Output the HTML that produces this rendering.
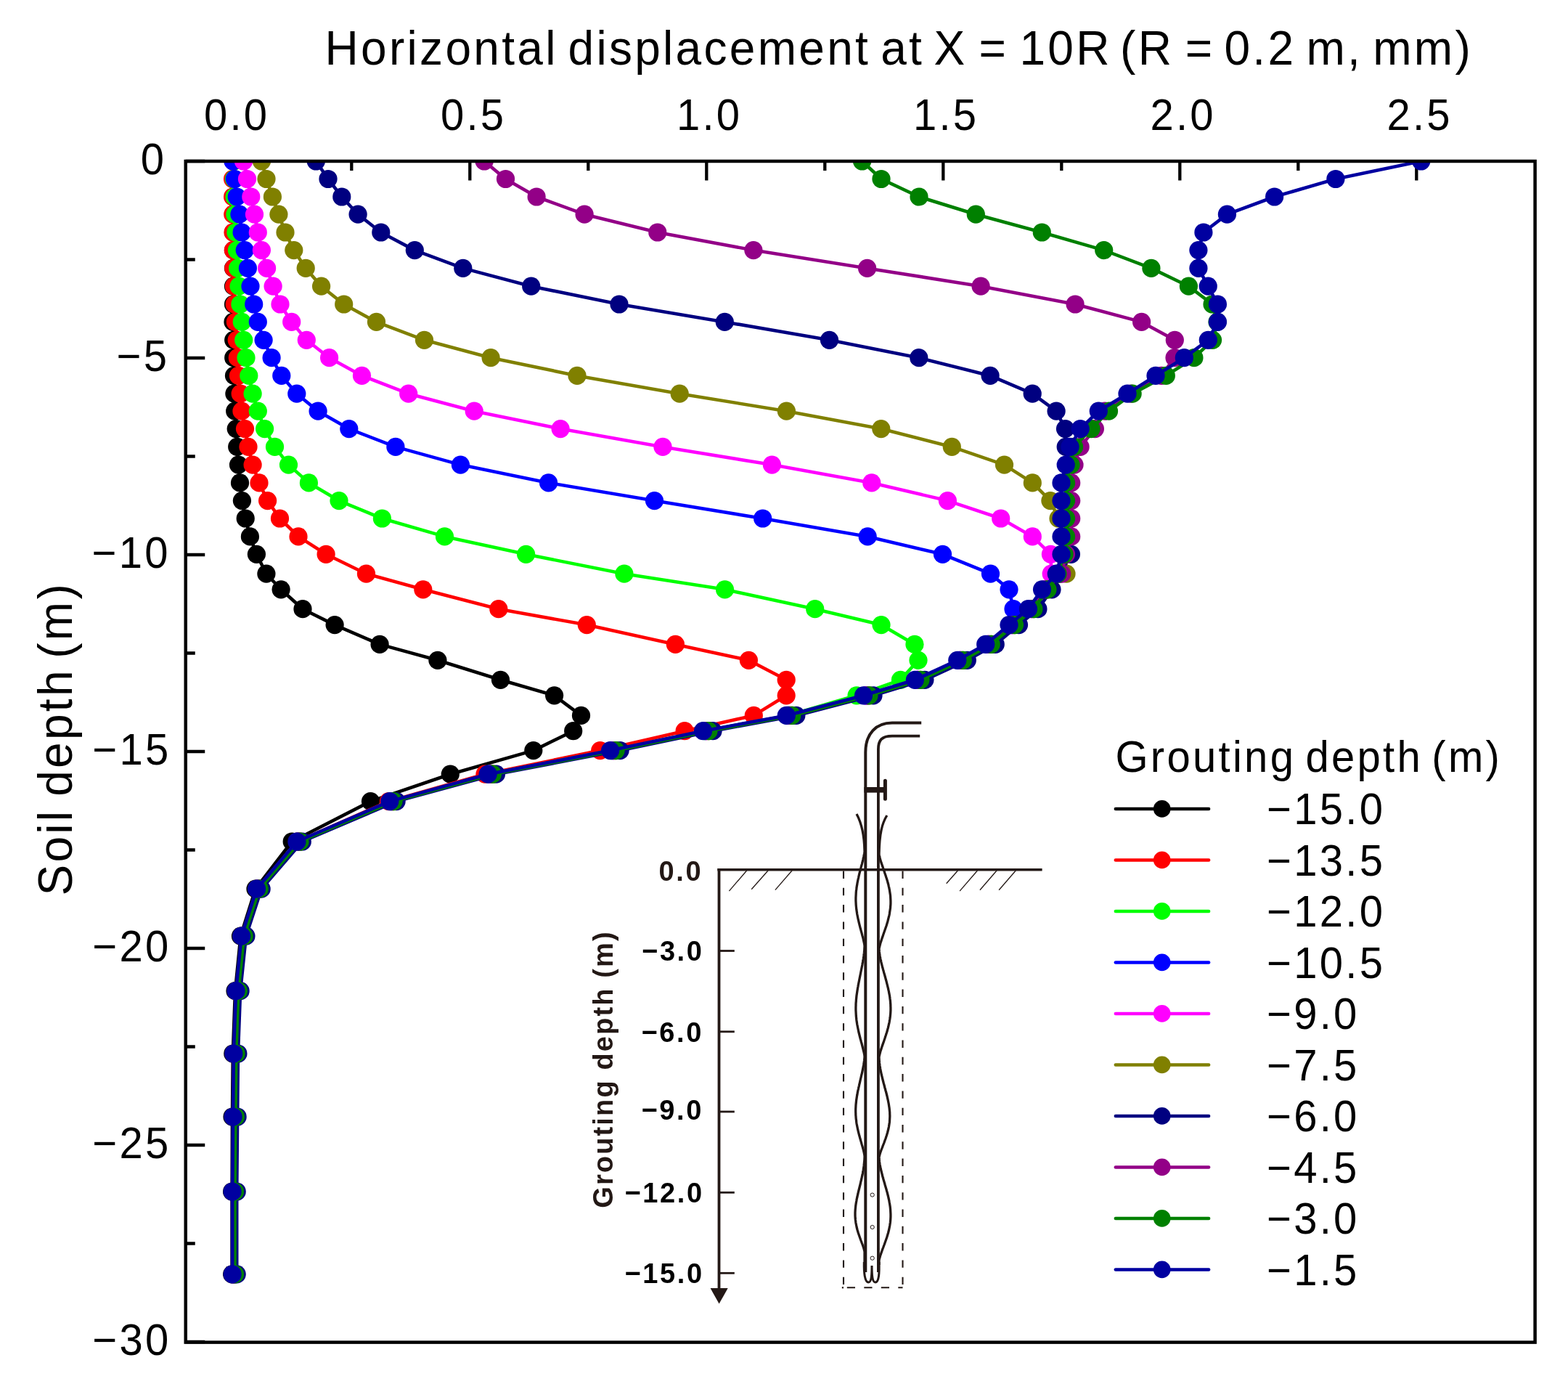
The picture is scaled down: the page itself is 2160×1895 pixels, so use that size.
<!DOCTYPE html><html><head><meta charset="utf-8"><title>Horizontal displacement at X = 10R</title>
<style>html,body{margin:0;padding:0;background:#fff;overflow:hidden;}svg{display:block;}text{font-family:'Liberation Sans', Arial, Helvetica, sans-serif;}</style></head><body>
<svg width="2160" height="1895" viewBox="0 0 2160 1895">
<rect x="0" y="0" width="2160" height="1895" fill="#fff"/>
<defs><clipPath id="pc"><rect x="255.75" y="222.0" width="1858.85" height="1626.60"/></clipPath></defs>
<text transform="translate(0,88.6) scale(1,1.04)" y="0" font-size="64" letter-spacing="3.3"><tspan x="447.6">Horizontal</tspan><tspan x="782.5">displacement</tspan><tspan x="1213.2">at</tspan><tspan x="1286.4">X</tspan><tspan x="1348.5">=</tspan><tspan x="1404.4">10R</tspan><tspan x="1543.1">(R</tspan><tspan x="1632.7">=</tspan><tspan x="1686.5">0.2</tspan><tspan x="1799.5">m,</tspan><tspan x="1891.2">mm)</tspan></text>
<text transform="translate(0,179.2) scale(1,1.04)" x="280.9" y="0" font-size="58" letter-spacing="3.3">0.0</text>
<text transform="translate(0,179.2) scale(1,1.04)" x="606.9" y="0" font-size="58" letter-spacing="3.3">0.5</text>
<text transform="translate(0,179.2) scale(1,1.04)" x="931.9" y="0" font-size="58" letter-spacing="3.3">1.0</text>
<text transform="translate(0,179.2) scale(1,1.04)" x="1257.9" y="0" font-size="58" letter-spacing="3.3">1.5</text>
<text transform="translate(0,179.2) scale(1,1.04)" x="1584.4" y="0" font-size="58" letter-spacing="3.3">2.0</text>
<text transform="translate(0,179.2) scale(1,1.04)" x="1910.4" y="0" font-size="58" letter-spacing="3.3">2.5</text>
<text transform="translate(0,240.3) scale(1,1.04)" x="193.7" y="0" font-size="58" letter-spacing="3.3">0</text>
<text transform="translate(0,511.3) scale(1,1.04)" x="160.6" y="0" font-size="58" letter-spacing="3.3">−5</text>
<text transform="translate(0,782.3) scale(1,1.04)" x="126.6" y="0" font-size="58" letter-spacing="3.3">−10</text>
<text transform="translate(0,1053.3) scale(1,1.04)" x="127.3" y="0" font-size="58" letter-spacing="3.3">−15</text>
<text transform="translate(0,1324.3) scale(1,1.04)" x="127.3" y="0" font-size="58" letter-spacing="3.3">−20</text>
<text transform="translate(0,1595.3) scale(1,1.04)" x="127.3" y="0" font-size="58" letter-spacing="3.3">−25</text>
<text transform="translate(0,1866.3) scale(1,1.04)" x="127.3" y="0" font-size="58" letter-spacing="3.3">−30</text>
<text transform="translate(98.8,1230.6) rotate(-90) scale(1,1.04)" y="0" font-size="64" letter-spacing="3.3"><tspan x="-3.0">Soil</tspan><tspan x="133.8">depth</tspan><tspan x="323.8">(m)</tspan></text>
<path d="M321.3,222.0v26.5M484.3,222.0v13M647.3,222.0v26.5M810.3,222.0v13M973.3,222.0v26.5M1136.3,222.0v13M1299.3,222.0v26.5M1462.3,222.0v13M1625.3,222.0v26.5M1788.3,222.0v13M1951.3,222.0v26.5M255.75,222.0h26.5M255.75,357.5h13M255.75,493.0h26.5M255.75,628.5h13M255.75,764.0h26.5M255.75,899.5h13M255.75,1035.0h26.5M255.75,1170.5h13M255.75,1306.0h26.5M255.75,1441.5h13M255.75,1577.0h26.5M255.75,1712.5h13M255.75,1848.0h26.5" stroke="#000" stroke-width="4.3" fill="none"/>
<g clip-path="url(#pc)">
<polyline points="321.5,222.0 321.5,246.5 321.5,271.0 321.5,295.2 321.5,320.0 321.5,344.6 321.5,369.4 321.5,394.2 321.5,419.0 321.0,443.4 321.7,468.3 321.7,492.7 322.5,517.4 322.9,542.2 323.7,566.2 325.2,590.6 326.7,615.4 328.5,640.1 330.5,664.9 333.4,689.6 338.2,714.0 344.4,738.9 353.4,763.3 366.9,790.2 387.1,811.8 417.0,838.7 461.1,860.6 523.1,887.4 602.9,909.3 689.5,936.3 763.6,957.8 800.5,985.4 789.7,1006.7 734.8,1033.6 620.3,1066.2 510.5,1103.6 402.2,1159.0 352.0,1224.2 331.5,1289.2 324.0,1364.7 320.8,1451.0 320.0,1538.0 319.6,1641.0 319.6,1754.8" fill="none" stroke="#000000" stroke-width="4.6" stroke-linejoin="round" stroke-linecap="round"/>
<g fill="#000000"><circle cx="321.5" cy="222.0" r="12.6"/><circle cx="321.5" cy="246.5" r="12.6"/><circle cx="321.5" cy="271.0" r="12.6"/><circle cx="321.5" cy="295.2" r="12.6"/><circle cx="321.5" cy="320.0" r="12.6"/><circle cx="321.5" cy="344.6" r="12.6"/><circle cx="321.5" cy="369.4" r="12.6"/><circle cx="321.5" cy="394.2" r="12.6"/><circle cx="321.5" cy="419.0" r="12.6"/><circle cx="321.0" cy="443.4" r="12.6"/><circle cx="321.7" cy="468.3" r="12.6"/><circle cx="321.7" cy="492.7" r="12.6"/><circle cx="322.5" cy="517.4" r="12.6"/><circle cx="322.9" cy="542.2" r="12.6"/><circle cx="323.7" cy="566.2" r="12.6"/><circle cx="325.2" cy="590.6" r="12.6"/><circle cx="326.7" cy="615.4" r="12.6"/><circle cx="328.5" cy="640.1" r="12.6"/><circle cx="330.5" cy="664.9" r="12.6"/><circle cx="333.4" cy="689.6" r="12.6"/><circle cx="338.2" cy="714.0" r="12.6"/><circle cx="344.4" cy="738.9" r="12.6"/><circle cx="353.4" cy="763.3" r="12.6"/><circle cx="366.9" cy="790.2" r="12.6"/><circle cx="387.1" cy="811.8" r="12.6"/><circle cx="417.0" cy="838.7" r="12.6"/><circle cx="461.1" cy="860.6" r="12.6"/><circle cx="523.1" cy="887.4" r="12.6"/><circle cx="602.9" cy="909.3" r="12.6"/><circle cx="689.5" cy="936.3" r="12.6"/><circle cx="763.6" cy="957.8" r="12.6"/><circle cx="800.5" cy="985.4" r="12.6"/><circle cx="789.7" cy="1006.7" r="12.6"/><circle cx="734.8" cy="1033.6" r="12.6"/><circle cx="620.3" cy="1066.2" r="12.6"/><circle cx="510.5" cy="1103.6" r="12.6"/><circle cx="402.2" cy="1159.0" r="12.6"/><circle cx="352.0" cy="1224.2" r="12.6"/><circle cx="331.5" cy="1289.2" r="12.6"/><circle cx="324.0" cy="1364.7" r="12.6"/><circle cx="320.8" cy="1451.0" r="12.6"/><circle cx="320.0" cy="1538.0" r="12.6"/><circle cx="319.6" cy="1641.0" r="12.6"/><circle cx="319.6" cy="1754.8" r="12.6"/></g>
<polyline points="321.5,222.0 320.6,246.5 320.6,271.0 320.8,295.2 321.0,320.0 321.3,344.6 321.8,369.4 322.5,394.2 323.2,419.0 324.4,443.4 326.2,468.3 327.3,492.7 328.5,517.4 331.2,542.2 333.0,566.2 337.5,590.6 342.0,615.4 348.1,640.1 357.0,664.9 368.6,689.6 385.5,714.0 411.0,738.9 449.1,763.3 504.5,790.2 582.8,811.8 686.8,838.7 808.3,860.6 930.4,887.4 1031.4,909.3 1083.2,936.3 1083.2,957.8 1038.3,985.4 943.1,1006.7 826.7,1033.6 668.0,1066.2 535.5,1103.6 409.4,1159.0 354.0,1224.2 333.1,1289.2 325.5,1364.7 322.3,1451.0 321.5,1538.0 320.6,1641.0 320.6,1754.8" fill="none" stroke="#FF0000" stroke-width="4.6" stroke-linejoin="round" stroke-linecap="round"/>
<g fill="#FF0000"><circle cx="321.5" cy="222.0" r="12.6"/><circle cx="320.6" cy="246.5" r="12.6"/><circle cx="320.6" cy="271.0" r="12.6"/><circle cx="320.8" cy="295.2" r="12.6"/><circle cx="321.0" cy="320.0" r="12.6"/><circle cx="321.3" cy="344.6" r="12.6"/><circle cx="321.8" cy="369.4" r="12.6"/><circle cx="322.5" cy="394.2" r="12.6"/><circle cx="323.2" cy="419.0" r="12.6"/><circle cx="324.4" cy="443.4" r="12.6"/><circle cx="326.2" cy="468.3" r="12.6"/><circle cx="327.3" cy="492.7" r="12.6"/><circle cx="328.5" cy="517.4" r="12.6"/><circle cx="331.2" cy="542.2" r="12.6"/><circle cx="333.0" cy="566.2" r="12.6"/><circle cx="337.5" cy="590.6" r="12.6"/><circle cx="342.0" cy="615.4" r="12.6"/><circle cx="348.1" cy="640.1" r="12.6"/><circle cx="357.0" cy="664.9" r="12.6"/><circle cx="368.6" cy="689.6" r="12.6"/><circle cx="385.5" cy="714.0" r="12.6"/><circle cx="411.0" cy="738.9" r="12.6"/><circle cx="449.1" cy="763.3" r="12.6"/><circle cx="504.5" cy="790.2" r="12.6"/><circle cx="582.8" cy="811.8" r="12.6"/><circle cx="686.8" cy="838.7" r="12.6"/><circle cx="808.3" cy="860.6" r="12.6"/><circle cx="930.4" cy="887.4" r="12.6"/><circle cx="1031.4" cy="909.3" r="12.6"/><circle cx="1083.2" cy="936.3" r="12.6"/><circle cx="1083.2" cy="957.8" r="12.6"/><circle cx="1038.3" cy="985.4" r="12.6"/><circle cx="943.1" cy="1006.7" r="12.6"/><circle cx="826.7" cy="1033.6" r="12.6"/><circle cx="668.0" cy="1066.2" r="12.6"/><circle cx="535.5" cy="1103.6" r="12.6"/><circle cx="409.4" cy="1159.0" r="12.6"/><circle cx="354.0" cy="1224.2" r="12.6"/><circle cx="333.1" cy="1289.2" r="12.6"/><circle cx="325.5" cy="1364.7" r="12.6"/><circle cx="322.3" cy="1451.0" r="12.6"/><circle cx="321.5" cy="1538.0" r="12.6"/><circle cx="320.6" cy="1641.0" r="12.6"/><circle cx="320.6" cy="1754.8" r="12.6"/></g>
<polyline points="322.0,222.0 322.4,246.5 323.1,271.0 323.9,295.2 324.9,320.0 326.4,344.6 327.6,369.4 329.1,394.2 330.9,419.0 333.3,443.4 335.7,468.3 339.0,492.7 342.8,517.4 348.1,542.2 355.3,566.2 364.6,590.6 378.5,615.4 397.5,640.1 425.4,664.9 467.0,689.6 526.4,714.0 612.5,738.9 724.6,763.3 859.9,790.2 998.5,811.8 1122.7,838.7 1214.0,860.6 1260.0,887.4 1265.0,909.3 1240.5,936.3 1180.0,957.8 1085.3,985.4 970.5,1006.7 842.6,1033.6 673.8,1066.2 538.2,1103.6 410.0,1159.0 354.5,1224.2 333.5,1289.2 325.9,1364.7 322.7,1451.0 321.9,1538.0 321.0,1641.0 321.0,1754.8" fill="none" stroke="#00FF00" stroke-width="4.6" stroke-linejoin="round" stroke-linecap="round"/>
<g fill="#00FF00"><circle cx="322.0" cy="222.0" r="12.6"/><circle cx="322.4" cy="246.5" r="12.6"/><circle cx="323.1" cy="271.0" r="12.6"/><circle cx="323.9" cy="295.2" r="12.6"/><circle cx="324.9" cy="320.0" r="12.6"/><circle cx="326.4" cy="344.6" r="12.6"/><circle cx="327.6" cy="369.4" r="12.6"/><circle cx="329.1" cy="394.2" r="12.6"/><circle cx="330.9" cy="419.0" r="12.6"/><circle cx="333.3" cy="443.4" r="12.6"/><circle cx="335.7" cy="468.3" r="12.6"/><circle cx="339.0" cy="492.7" r="12.6"/><circle cx="342.8" cy="517.4" r="12.6"/><circle cx="348.1" cy="542.2" r="12.6"/><circle cx="355.3" cy="566.2" r="12.6"/><circle cx="364.6" cy="590.6" r="12.6"/><circle cx="378.5" cy="615.4" r="12.6"/><circle cx="397.5" cy="640.1" r="12.6"/><circle cx="425.4" cy="664.9" r="12.6"/><circle cx="467.0" cy="689.6" r="12.6"/><circle cx="526.4" cy="714.0" r="12.6"/><circle cx="612.5" cy="738.9" r="12.6"/><circle cx="724.6" cy="763.3" r="12.6"/><circle cx="859.9" cy="790.2" r="12.6"/><circle cx="998.5" cy="811.8" r="12.6"/><circle cx="1122.7" cy="838.7" r="12.6"/><circle cx="1214.0" cy="860.6" r="12.6"/><circle cx="1260.0" cy="887.4" r="12.6"/><circle cx="1265.0" cy="909.3" r="12.6"/><circle cx="1240.5" cy="936.3" r="12.6"/><circle cx="1180.0" cy="957.8" r="12.6"/><circle cx="1085.3" cy="985.4" r="12.6"/><circle cx="970.5" cy="1006.7" r="12.6"/><circle cx="842.6" cy="1033.6" r="12.6"/><circle cx="673.8" cy="1066.2" r="12.6"/><circle cx="538.2" cy="1103.6" r="12.6"/><circle cx="410.0" cy="1159.0" r="12.6"/><circle cx="354.5" cy="1224.2" r="12.6"/><circle cx="333.5" cy="1289.2" r="12.6"/><circle cx="325.9" cy="1364.7" r="12.6"/><circle cx="322.7" cy="1451.0" r="12.6"/><circle cx="321.9" cy="1538.0" r="12.6"/><circle cx="321.0" cy="1641.0" r="12.6"/><circle cx="321.0" cy="1754.8" r="12.6"/></g>
<polyline points="321.0,222.0 323.3,246.5 326.2,271.0 329.9,295.2 333.1,320.0 337.2,344.6 341.4,369.4 345.0,394.2 349.7,419.0 355.3,443.4 363.1,468.3 374.1,492.7 387.8,517.4 408.8,542.2 438.1,566.2 480.8,590.6 544.9,615.4 634.4,640.1 755.6,664.9 901.5,689.6 1050.7,714.0 1195.2,738.9 1298.5,763.3 1364.5,790.2 1390.0,811.8 1396.0,838.7 1393.0,860.6 1360.7,887.4 1321.8,909.3 1263.4,936.3 1192.5,957.8 1086.3,985.4 971.5,1006.7 843.6,1033.6 674.6,1066.2 538.9,1103.6 410.5,1159.0 355.0,1224.2 334.0,1289.2 326.4,1364.7 323.2,1451.0 322.4,1538.0 321.5,1641.0 321.5,1754.8" fill="none" stroke="#0000FF" stroke-width="4.6" stroke-linejoin="round" stroke-linecap="round"/>
<g fill="#0000FF"><circle cx="321.0" cy="222.0" r="12.6"/><circle cx="323.3" cy="246.5" r="12.6"/><circle cx="326.2" cy="271.0" r="12.6"/><circle cx="329.9" cy="295.2" r="12.6"/><circle cx="333.1" cy="320.0" r="12.6"/><circle cx="337.2" cy="344.6" r="12.6"/><circle cx="341.4" cy="369.4" r="12.6"/><circle cx="345.0" cy="394.2" r="12.6"/><circle cx="349.7" cy="419.0" r="12.6"/><circle cx="355.3" cy="443.4" r="12.6"/><circle cx="363.1" cy="468.3" r="12.6"/><circle cx="374.1" cy="492.7" r="12.6"/><circle cx="387.8" cy="517.4" r="12.6"/><circle cx="408.8" cy="542.2" r="12.6"/><circle cx="438.1" cy="566.2" r="12.6"/><circle cx="480.8" cy="590.6" r="12.6"/><circle cx="544.9" cy="615.4" r="12.6"/><circle cx="634.4" cy="640.1" r="12.6"/><circle cx="755.6" cy="664.9" r="12.6"/><circle cx="901.5" cy="689.6" r="12.6"/><circle cx="1050.7" cy="714.0" r="12.6"/><circle cx="1195.2" cy="738.9" r="12.6"/><circle cx="1298.5" cy="763.3" r="12.6"/><circle cx="1364.5" cy="790.2" r="12.6"/><circle cx="1390.0" cy="811.8" r="12.6"/><circle cx="1396.0" cy="838.7" r="12.6"/><circle cx="1393.0" cy="860.6" r="12.6"/><circle cx="1360.7" cy="887.4" r="12.6"/><circle cx="1321.8" cy="909.3" r="12.6"/><circle cx="1263.4" cy="936.3" r="12.6"/><circle cx="1192.5" cy="957.8" r="12.6"/><circle cx="1086.3" cy="985.4" r="12.6"/><circle cx="971.5" cy="1006.7" r="12.6"/><circle cx="843.6" cy="1033.6" r="12.6"/><circle cx="674.6" cy="1066.2" r="12.6"/><circle cx="538.9" cy="1103.6" r="12.6"/><circle cx="410.5" cy="1159.0" r="12.6"/><circle cx="355.0" cy="1224.2" r="12.6"/><circle cx="334.0" cy="1289.2" r="12.6"/><circle cx="326.4" cy="1364.7" r="12.6"/><circle cx="323.2" cy="1451.0" r="12.6"/><circle cx="322.4" cy="1538.0" r="12.6"/><circle cx="321.5" cy="1641.0" r="12.6"/><circle cx="321.5" cy="1754.8" r="12.6"/></g>
<polyline points="335.5,222.0 340.5,246.5 345.8,271.0 350.5,295.2 355.3,320.0 360.4,344.6 367.6,369.4 376.1,394.2 386.0,419.0 401.7,443.4 422.3,468.3 453.6,492.7 498.5,517.4 562.7,542.2 653.2,566.2 772.1,590.6 913.0,615.4 1063.4,640.1 1200.8,664.9 1305.4,689.6 1378.7,714.0 1422.3,738.9 1447.4,763.3 1448.2,790.2 1438.0,811.8 1420.4,838.7 1394.0,860.6 1361.7,887.4 1322.8,909.3 1264.4,936.3 1193.5,957.8 1087.3,985.4 972.5,1006.7 844.6,1033.6 675.4,1066.2 539.6,1103.6 411.1,1159.0 355.4,1224.2 334.5,1289.2 326.8,1364.7 323.6,1451.0 322.8,1538.0 321.9,1641.0 321.9,1754.8" fill="none" stroke="#FF00FF" stroke-width="4.6" stroke-linejoin="round" stroke-linecap="round"/>
<g fill="#FF00FF"><circle cx="335.5" cy="222.0" r="12.6"/><circle cx="340.5" cy="246.5" r="12.6"/><circle cx="345.8" cy="271.0" r="12.6"/><circle cx="350.5" cy="295.2" r="12.6"/><circle cx="355.3" cy="320.0" r="12.6"/><circle cx="360.4" cy="344.6" r="12.6"/><circle cx="367.6" cy="369.4" r="12.6"/><circle cx="376.1" cy="394.2" r="12.6"/><circle cx="386.0" cy="419.0" r="12.6"/><circle cx="401.7" cy="443.4" r="12.6"/><circle cx="422.3" cy="468.3" r="12.6"/><circle cx="453.6" cy="492.7" r="12.6"/><circle cx="498.5" cy="517.4" r="12.6"/><circle cx="562.7" cy="542.2" r="12.6"/><circle cx="653.2" cy="566.2" r="12.6"/><circle cx="772.1" cy="590.6" r="12.6"/><circle cx="913.0" cy="615.4" r="12.6"/><circle cx="1063.4" cy="640.1" r="12.6"/><circle cx="1200.8" cy="664.9" r="12.6"/><circle cx="1305.4" cy="689.6" r="12.6"/><circle cx="1378.7" cy="714.0" r="12.6"/><circle cx="1422.3" cy="738.9" r="12.6"/><circle cx="1447.4" cy="763.3" r="12.6"/><circle cx="1448.2" cy="790.2" r="12.6"/><circle cx="1438.0" cy="811.8" r="12.6"/><circle cx="1420.4" cy="838.7" r="12.6"/><circle cx="1394.0" cy="860.6" r="12.6"/><circle cx="1361.7" cy="887.4" r="12.6"/><circle cx="1322.8" cy="909.3" r="12.6"/><circle cx="1264.4" cy="936.3" r="12.6"/><circle cx="1193.5" cy="957.8" r="12.6"/><circle cx="1087.3" cy="985.4" r="12.6"/><circle cx="972.5" cy="1006.7" r="12.6"/><circle cx="844.6" cy="1033.6" r="12.6"/><circle cx="675.4" cy="1066.2" r="12.6"/><circle cx="539.6" cy="1103.6" r="12.6"/><circle cx="411.1" cy="1159.0" r="12.6"/><circle cx="355.4" cy="1224.2" r="12.6"/><circle cx="334.5" cy="1289.2" r="12.6"/><circle cx="326.8" cy="1364.7" r="12.6"/><circle cx="323.6" cy="1451.0" r="12.6"/><circle cx="322.8" cy="1538.0" r="12.6"/><circle cx="321.9" cy="1641.0" r="12.6"/><circle cx="321.9" cy="1754.8" r="12.6"/></g>
<polyline points="360.4,222.0 367.0,246.5 375.4,271.0 383.9,295.2 393.0,320.0 404.8,344.6 421.2,369.4 442.6,394.2 473.7,419.0 518.5,443.4 584.5,468.3 676.1,492.7 795.0,517.4 936.2,542.2 1083.4,566.2 1213.8,590.6 1311.3,615.4 1383.5,640.1 1422.3,664.9 1446.9,689.6 1458.0,714.0 1464.0,738.9 1468.0,763.3 1469.0,790.2 1443.5,811.8 1424.4,838.7 1398.0,860.6 1365.7,887.4 1326.8,909.3 1268.4,936.3 1197.5,957.8 1091.3,985.4 976.5,1006.7 848.6,1033.6 678.8,1066.2 542.3,1103.6 413.3,1159.0 357.4,1224.2 336.3,1289.2 328.6,1364.7 325.4,1451.0 324.6,1538.0 323.7,1641.0 323.7,1754.8" fill="none" stroke="#808000" stroke-width="4.6" stroke-linejoin="round" stroke-linecap="round"/>
<g fill="#808000"><circle cx="360.4" cy="222.0" r="12.6"/><circle cx="367.0" cy="246.5" r="12.6"/><circle cx="375.4" cy="271.0" r="12.6"/><circle cx="383.9" cy="295.2" r="12.6"/><circle cx="393.0" cy="320.0" r="12.6"/><circle cx="404.8" cy="344.6" r="12.6"/><circle cx="421.2" cy="369.4" r="12.6"/><circle cx="442.6" cy="394.2" r="12.6"/><circle cx="473.7" cy="419.0" r="12.6"/><circle cx="518.5" cy="443.4" r="12.6"/><circle cx="584.5" cy="468.3" r="12.6"/><circle cx="676.1" cy="492.7" r="12.6"/><circle cx="795.0" cy="517.4" r="12.6"/><circle cx="936.2" cy="542.2" r="12.6"/><circle cx="1083.4" cy="566.2" r="12.6"/><circle cx="1213.8" cy="590.6" r="12.6"/><circle cx="1311.3" cy="615.4" r="12.6"/><circle cx="1383.5" cy="640.1" r="12.6"/><circle cx="1422.3" cy="664.9" r="12.6"/><circle cx="1446.9" cy="689.6" r="12.6"/><circle cx="1458.0" cy="714.0" r="12.6"/><circle cx="1464.0" cy="738.9" r="12.6"/><circle cx="1468.0" cy="763.3" r="12.6"/><circle cx="1469.0" cy="790.2" r="12.6"/><circle cx="1443.5" cy="811.8" r="12.6"/><circle cx="1424.4" cy="838.7" r="12.6"/><circle cx="1398.0" cy="860.6" r="12.6"/><circle cx="1365.7" cy="887.4" r="12.6"/><circle cx="1326.8" cy="909.3" r="12.6"/><circle cx="1268.4" cy="936.3" r="12.6"/><circle cx="1197.5" cy="957.8" r="12.6"/><circle cx="1091.3" cy="985.4" r="12.6"/><circle cx="976.5" cy="1006.7" r="12.6"/><circle cx="848.6" cy="1033.6" r="12.6"/><circle cx="678.8" cy="1066.2" r="12.6"/><circle cx="542.3" cy="1103.6" r="12.6"/><circle cx="413.3" cy="1159.0" r="12.6"/><circle cx="357.4" cy="1224.2" r="12.6"/><circle cx="336.3" cy="1289.2" r="12.6"/><circle cx="328.6" cy="1364.7" r="12.6"/><circle cx="325.4" cy="1451.0" r="12.6"/><circle cx="324.6" cy="1538.0" r="12.6"/><circle cx="323.7" cy="1641.0" r="12.6"/><circle cx="323.7" cy="1754.8" r="12.6"/></g>
<polyline points="435.3,222.0 452.0,246.5 470.8,271.0 493.1,295.2 524.8,320.0 571.3,344.6 637.8,369.4 731.7,394.2 853.0,419.0 998.3,443.4 1142.5,468.3 1265.8,492.7 1364.1,517.4 1422.2,542.2 1455.1,566.2 1467.5,590.6 1468.2,615.4 1470.0,640.1 1470.0,664.9 1470.0,689.6 1470.0,714.0 1470.0,738.9 1475.4,763.3 1460.0,790.2 1449.0,811.8 1429.9,838.7 1403.5,860.6 1371.2,887.4 1332.3,909.3 1273.9,936.3 1203.0,957.8 1096.8,985.4 982.0,1006.7 854.1,1033.6 683.4,1066.2 546.1,1103.6 416.3,1159.0 360.1,1224.2 338.9,1289.2 331.1,1364.7 327.9,1451.0 327.1,1538.0 326.2,1641.0 326.2,1754.8" fill="none" stroke="#000080" stroke-width="4.6" stroke-linejoin="round" stroke-linecap="round"/>
<g fill="#000080"><circle cx="435.3" cy="222.0" r="12.6"/><circle cx="452.0" cy="246.5" r="12.6"/><circle cx="470.8" cy="271.0" r="12.6"/><circle cx="493.1" cy="295.2" r="12.6"/><circle cx="524.8" cy="320.0" r="12.6"/><circle cx="571.3" cy="344.6" r="12.6"/><circle cx="637.8" cy="369.4" r="12.6"/><circle cx="731.7" cy="394.2" r="12.6"/><circle cx="853.0" cy="419.0" r="12.6"/><circle cx="998.3" cy="443.4" r="12.6"/><circle cx="1142.5" cy="468.3" r="12.6"/><circle cx="1265.8" cy="492.7" r="12.6"/><circle cx="1364.1" cy="517.4" r="12.6"/><circle cx="1422.2" cy="542.2" r="12.6"/><circle cx="1455.1" cy="566.2" r="12.6"/><circle cx="1467.5" cy="590.6" r="12.6"/><circle cx="1468.2" cy="615.4" r="12.6"/><circle cx="1470.0" cy="640.1" r="12.6"/><circle cx="1470.0" cy="664.9" r="12.6"/><circle cx="1470.0" cy="689.6" r="12.6"/><circle cx="1470.0" cy="714.0" r="12.6"/><circle cx="1470.0" cy="738.9" r="12.6"/><circle cx="1475.4" cy="763.3" r="12.6"/><circle cx="1460.0" cy="790.2" r="12.6"/><circle cx="1449.0" cy="811.8" r="12.6"/><circle cx="1429.9" cy="838.7" r="12.6"/><circle cx="1403.5" cy="860.6" r="12.6"/><circle cx="1371.2" cy="887.4" r="12.6"/><circle cx="1332.3" cy="909.3" r="12.6"/><circle cx="1273.9" cy="936.3" r="12.6"/><circle cx="1203.0" cy="957.8" r="12.6"/><circle cx="1096.8" cy="985.4" r="12.6"/><circle cx="982.0" cy="1006.7" r="12.6"/><circle cx="854.1" cy="1033.6" r="12.6"/><circle cx="683.4" cy="1066.2" r="12.6"/><circle cx="546.1" cy="1103.6" r="12.6"/><circle cx="416.3" cy="1159.0" r="12.6"/><circle cx="360.1" cy="1224.2" r="12.6"/><circle cx="338.9" cy="1289.2" r="12.6"/><circle cx="331.1" cy="1364.7" r="12.6"/><circle cx="327.9" cy="1451.0" r="12.6"/><circle cx="327.1" cy="1538.0" r="12.6"/><circle cx="326.2" cy="1641.0" r="12.6"/><circle cx="326.2" cy="1754.8" r="12.6"/></g>
<polyline points="667.1,222.0 696.5,246.5 739.1,271.0 805.1,295.2 905.8,320.0 1037.9,344.6 1194.6,369.4 1351.1,394.2 1481.1,419.0 1572.6,443.4 1618.3,468.3 1618.0,492.7 1600.0,517.4 1558.0,542.2 1522.0,566.2 1508.4,590.6 1488.1,615.4 1480.0,640.1 1475.7,664.9 1475.7,689.6 1475.7,714.0 1475.7,738.9 1468.5,763.3 1462.7,790.2 1440.5,811.8 1421.4,838.7 1395.0,860.6 1362.7,887.4 1323.8,909.3 1265.4,936.3 1194.5,957.8 1088.3,985.4 973.5,1006.7 845.6,1033.6 676.3,1066.2 540.2,1103.6 411.6,1159.0 355.9,1224.2 334.9,1289.2 327.3,1364.7 324.1,1451.0 323.3,1538.0 322.4,1641.0 322.4,1754.8" fill="none" stroke="#930087" stroke-width="4.6" stroke-linejoin="round" stroke-linecap="round"/>
<g fill="#930087"><circle cx="667.1" cy="222.0" r="12.6"/><circle cx="696.5" cy="246.5" r="12.6"/><circle cx="739.1" cy="271.0" r="12.6"/><circle cx="805.1" cy="295.2" r="12.6"/><circle cx="905.8" cy="320.0" r="12.6"/><circle cx="1037.9" cy="344.6" r="12.6"/><circle cx="1194.6" cy="369.4" r="12.6"/><circle cx="1351.1" cy="394.2" r="12.6"/><circle cx="1481.1" cy="419.0" r="12.6"/><circle cx="1572.6" cy="443.4" r="12.6"/><circle cx="1618.3" cy="468.3" r="12.6"/><circle cx="1618.0" cy="492.7" r="12.6"/><circle cx="1600.0" cy="517.4" r="12.6"/><circle cx="1558.0" cy="542.2" r="12.6"/><circle cx="1522.0" cy="566.2" r="12.6"/><circle cx="1508.4" cy="590.6" r="12.6"/><circle cx="1488.1" cy="615.4" r="12.6"/><circle cx="1480.0" cy="640.1" r="12.6"/><circle cx="1475.7" cy="664.9" r="12.6"/><circle cx="1475.7" cy="689.6" r="12.6"/><circle cx="1475.7" cy="714.0" r="12.6"/><circle cx="1475.7" cy="738.9" r="12.6"/><circle cx="1468.5" cy="763.3" r="12.6"/><circle cx="1462.7" cy="790.2" r="12.6"/><circle cx="1440.5" cy="811.8" r="12.6"/><circle cx="1421.4" cy="838.7" r="12.6"/><circle cx="1395.0" cy="860.6" r="12.6"/><circle cx="1362.7" cy="887.4" r="12.6"/><circle cx="1323.8" cy="909.3" r="12.6"/><circle cx="1265.4" cy="936.3" r="12.6"/><circle cx="1194.5" cy="957.8" r="12.6"/><circle cx="1088.3" cy="985.4" r="12.6"/><circle cx="973.5" cy="1006.7" r="12.6"/><circle cx="845.6" cy="1033.6" r="12.6"/><circle cx="676.3" cy="1066.2" r="12.6"/><circle cx="540.2" cy="1103.6" r="12.6"/><circle cx="411.6" cy="1159.0" r="12.6"/><circle cx="355.9" cy="1224.2" r="12.6"/><circle cx="334.9" cy="1289.2" r="12.6"/><circle cx="327.3" cy="1364.7" r="12.6"/><circle cx="324.1" cy="1451.0" r="12.6"/><circle cx="323.3" cy="1538.0" r="12.6"/><circle cx="322.4" cy="1641.0" r="12.6"/><circle cx="322.4" cy="1754.8" r="12.6"/></g>
<polyline points="1187.6,222.0 1214.0,246.5 1266.0,271.0 1344.3,295.2 1435.3,320.0 1520.7,344.6 1585.9,369.4 1637.4,394.2 1670.0,419.0 1677.0,443.4 1670.5,468.3 1644.9,492.7 1606.3,517.4 1560.1,542.2 1527.5,566.2 1503.0,590.6 1479.5,615.4 1475.0,640.1 1468.5,664.9 1468.5,689.6 1468.5,714.0 1468.5,738.9 1466.0,763.3 1457.0,790.2 1443.0,811.8 1423.9,838.7 1397.5,860.6 1365.2,887.4 1326.3,909.3 1267.9,936.3 1197.0,957.8 1090.8,985.4 976.0,1006.7 848.1,1033.6 678.4,1066.2 542.0,1103.6 413.0,1159.0 357.2,1224.2 336.1,1289.2 328.4,1364.7 325.2,1451.0 324.4,1538.0 323.5,1641.0 323.5,1754.8" fill="none" stroke="#008000" stroke-width="4.6" stroke-linejoin="round" stroke-linecap="round"/>
<g fill="#008000"><circle cx="1187.6" cy="222.0" r="12.6"/><circle cx="1214.0" cy="246.5" r="12.6"/><circle cx="1266.0" cy="271.0" r="12.6"/><circle cx="1344.3" cy="295.2" r="12.6"/><circle cx="1435.3" cy="320.0" r="12.6"/><circle cx="1520.7" cy="344.6" r="12.6"/><circle cx="1585.9" cy="369.4" r="12.6"/><circle cx="1637.4" cy="394.2" r="12.6"/><circle cx="1670.0" cy="419.0" r="12.6"/><circle cx="1677.0" cy="443.4" r="12.6"/><circle cx="1670.5" cy="468.3" r="12.6"/><circle cx="1644.9" cy="492.7" r="12.6"/><circle cx="1606.3" cy="517.4" r="12.6"/><circle cx="1560.1" cy="542.2" r="12.6"/><circle cx="1527.5" cy="566.2" r="12.6"/><circle cx="1503.0" cy="590.6" r="12.6"/><circle cx="1479.5" cy="615.4" r="12.6"/><circle cx="1475.0" cy="640.1" r="12.6"/><circle cx="1468.5" cy="664.9" r="12.6"/><circle cx="1468.5" cy="689.6" r="12.6"/><circle cx="1468.5" cy="714.0" r="12.6"/><circle cx="1468.5" cy="738.9" r="12.6"/><circle cx="1466.0" cy="763.3" r="12.6"/><circle cx="1457.0" cy="790.2" r="12.6"/><circle cx="1443.0" cy="811.8" r="12.6"/><circle cx="1423.9" cy="838.7" r="12.6"/><circle cx="1397.5" cy="860.6" r="12.6"/><circle cx="1365.2" cy="887.4" r="12.6"/><circle cx="1326.3" cy="909.3" r="12.6"/><circle cx="1267.9" cy="936.3" r="12.6"/><circle cx="1197.0" cy="957.8" r="12.6"/><circle cx="1090.8" cy="985.4" r="12.6"/><circle cx="976.0" cy="1006.7" r="12.6"/><circle cx="848.1" cy="1033.6" r="12.6"/><circle cx="678.4" cy="1066.2" r="12.6"/><circle cx="542.0" cy="1103.6" r="12.6"/><circle cx="413.0" cy="1159.0" r="12.6"/><circle cx="357.2" cy="1224.2" r="12.6"/><circle cx="336.1" cy="1289.2" r="12.6"/><circle cx="328.4" cy="1364.7" r="12.6"/><circle cx="325.2" cy="1451.0" r="12.6"/><circle cx="324.4" cy="1538.0" r="12.6"/><circle cx="323.5" cy="1641.0" r="12.6"/><circle cx="323.5" cy="1754.8" r="12.6"/></g>
<polyline points="1957.7,222.0 1839.9,246.5 1755.6,271.0 1690.4,295.2 1657.9,320.0 1650.9,344.6 1650.9,369.4 1664.2,394.2 1677.4,419.0 1677.4,443.4 1664.3,468.3 1631.3,492.7 1592.0,517.4 1553.0,542.2 1513.3,566.2 1488.2,590.6 1474.0,615.4 1468.2,640.1 1462.0,664.9 1462.0,689.6 1462.0,714.0 1462.0,738.9 1462.0,763.3 1455.3,790.2 1435.5,811.8 1416.4,838.7 1390.0,860.6 1357.7,887.4 1318.8,909.3 1260.4,936.3 1189.5,957.8 1083.3,985.4 968.5,1006.7 840.6,1033.6 672.1,1066.2 536.8,1103.6 408.9,1159.0 353.5,1224.2 332.6,1289.2 325.0,1364.7 321.8,1451.0 321.0,1538.0 320.1,1641.0 320.1,1754.8" fill="none" stroke="#0000A0" stroke-width="4.6" stroke-linejoin="round" stroke-linecap="round"/>
<g fill="#0000A0"><circle cx="1957.7" cy="222.0" r="12.6"/><circle cx="1839.9" cy="246.5" r="12.6"/><circle cx="1755.6" cy="271.0" r="12.6"/><circle cx="1690.4" cy="295.2" r="12.6"/><circle cx="1657.9" cy="320.0" r="12.6"/><circle cx="1650.9" cy="344.6" r="12.6"/><circle cx="1650.9" cy="369.4" r="12.6"/><circle cx="1664.2" cy="394.2" r="12.6"/><circle cx="1677.4" cy="419.0" r="12.6"/><circle cx="1677.4" cy="443.4" r="12.6"/><circle cx="1664.3" cy="468.3" r="12.6"/><circle cx="1631.3" cy="492.7" r="12.6"/><circle cx="1592.0" cy="517.4" r="12.6"/><circle cx="1553.0" cy="542.2" r="12.6"/><circle cx="1513.3" cy="566.2" r="12.6"/><circle cx="1488.2" cy="590.6" r="12.6"/><circle cx="1474.0" cy="615.4" r="12.6"/><circle cx="1468.2" cy="640.1" r="12.6"/><circle cx="1462.0" cy="664.9" r="12.6"/><circle cx="1462.0" cy="689.6" r="12.6"/><circle cx="1462.0" cy="714.0" r="12.6"/><circle cx="1462.0" cy="738.9" r="12.6"/><circle cx="1462.0" cy="763.3" r="12.6"/><circle cx="1455.3" cy="790.2" r="12.6"/><circle cx="1435.5" cy="811.8" r="12.6"/><circle cx="1416.4" cy="838.7" r="12.6"/><circle cx="1390.0" cy="860.6" r="12.6"/><circle cx="1357.7" cy="887.4" r="12.6"/><circle cx="1318.8" cy="909.3" r="12.6"/><circle cx="1260.4" cy="936.3" r="12.6"/><circle cx="1189.5" cy="957.8" r="12.6"/><circle cx="1083.3" cy="985.4" r="12.6"/><circle cx="968.5" cy="1006.7" r="12.6"/><circle cx="840.6" cy="1033.6" r="12.6"/><circle cx="672.1" cy="1066.2" r="12.6"/><circle cx="536.8" cy="1103.6" r="12.6"/><circle cx="408.9" cy="1159.0" r="12.6"/><circle cx="353.5" cy="1224.2" r="12.6"/><circle cx="332.6" cy="1289.2" r="12.6"/><circle cx="325.0" cy="1364.7" r="12.6"/><circle cx="321.8" cy="1451.0" r="12.6"/><circle cx="321.0" cy="1538.0" r="12.6"/><circle cx="320.1" cy="1641.0" r="12.6"/><circle cx="320.1" cy="1754.8" r="12.6"/></g>
</g>
<rect x="255.75" y="222.0" width="1858.85" height="1626.60" fill="none" stroke="#000" stroke-width="4.5"/>
<text transform="translate(0,1063.3) scale(1,1.04)" y="0" font-size="58" letter-spacing="3.3"><tspan x="1536.4">Grouting</tspan><tspan x="1798.4">depth</tspan><tspan x="1972.3">(m)</tspan></text>
<line x1="1536.8" y1="1113.9" x2="1665.1" y2="1113.9" stroke="#000000" stroke-width="4.5" stroke-linecap="round"/>
<circle cx="1600.7" cy="1113.9" r="11.8" fill="#000000"/>
<text transform="translate(0,1135.2) scale(1,1.04)" x="1745.0" y="0" font-size="58" letter-spacing="3.3">−15.0</text>
<line x1="1536.8" y1="1184.4" x2="1665.1" y2="1184.4" stroke="#FF0000" stroke-width="4.5" stroke-linecap="round"/>
<circle cx="1600.7" cy="1184.4" r="11.8" fill="#FF0000"/>
<text transform="translate(0,1205.7) scale(1,1.04)" x="1745.0" y="0" font-size="58" letter-spacing="3.3">−13.5</text>
<line x1="1536.8" y1="1254.9" x2="1665.1" y2="1254.9" stroke="#00FF00" stroke-width="4.5" stroke-linecap="round"/>
<circle cx="1600.7" cy="1254.9" r="11.8" fill="#00FF00"/>
<text transform="translate(0,1276.2) scale(1,1.04)" x="1745.0" y="0" font-size="58" letter-spacing="3.3">−12.0</text>
<line x1="1536.8" y1="1325.4" x2="1665.1" y2="1325.4" stroke="#0000FF" stroke-width="4.5" stroke-linecap="round"/>
<circle cx="1600.7" cy="1325.4" r="11.8" fill="#0000FF"/>
<text transform="translate(0,1346.7) scale(1,1.04)" x="1745.0" y="0" font-size="58" letter-spacing="3.3">−10.5</text>
<line x1="1536.8" y1="1395.9" x2="1665.1" y2="1395.9" stroke="#FF00FF" stroke-width="4.5" stroke-linecap="round"/>
<circle cx="1600.7" cy="1395.9" r="11.8" fill="#FF00FF"/>
<text transform="translate(0,1417.2) scale(1,1.04)" x="1745.0" y="0" font-size="58" letter-spacing="3.3">−9.0</text>
<line x1="1536.8" y1="1466.4" x2="1665.1" y2="1466.4" stroke="#808000" stroke-width="4.5" stroke-linecap="round"/>
<circle cx="1600.7" cy="1466.4" r="11.8" fill="#808000"/>
<text transform="translate(0,1487.7) scale(1,1.04)" x="1745.0" y="0" font-size="58" letter-spacing="3.3">−7.5</text>
<line x1="1536.8" y1="1536.9" x2="1665.1" y2="1536.9" stroke="#000080" stroke-width="4.5" stroke-linecap="round"/>
<circle cx="1600.7" cy="1536.9" r="11.8" fill="#000080"/>
<text transform="translate(0,1558.2) scale(1,1.04)" x="1745.0" y="0" font-size="58" letter-spacing="3.3">−6.0</text>
<line x1="1536.8" y1="1607.4" x2="1665.1" y2="1607.4" stroke="#930087" stroke-width="4.5" stroke-linecap="round"/>
<circle cx="1600.7" cy="1607.4" r="11.8" fill="#930087"/>
<text transform="translate(0,1628.7) scale(1,1.04)" x="1745.0" y="0" font-size="58" letter-spacing="3.3">−4.5</text>
<line x1="1536.8" y1="1677.9" x2="1665.1" y2="1677.9" stroke="#008000" stroke-width="4.5" stroke-linecap="round"/>
<circle cx="1600.7" cy="1677.9" r="11.8" fill="#008000"/>
<text transform="translate(0,1699.2) scale(1,1.04)" x="1745.0" y="0" font-size="58" letter-spacing="3.3">−3.0</text>
<line x1="1536.8" y1="1748.4" x2="1665.1" y2="1748.4" stroke="#0000A0" stroke-width="4.5" stroke-linecap="round"/>
<circle cx="1600.7" cy="1748.4" r="11.8" fill="#0000A0"/>
<text transform="translate(0,1769.7) scale(1,1.04)" x="1745.0" y="0" font-size="58" letter-spacing="3.3">−1.5</text>
<g><text transform="translate(0,1212.7) scale(1,1.04)" x="907.6" y="0" font-size="38" font-weight="bold" letter-spacing="2.6" fill="#231815">0.0</text><text transform="translate(0,1323.2) scale(1,1.04)" x="884.1" y="0" font-size="38" font-weight="bold" letter-spacing="2.6">−3.0</text><text transform="translate(0,1434.5) scale(1,1.04)" x="883.6" y="0" font-size="38" font-weight="bold" letter-spacing="2.6">−6.0</text><text transform="translate(0,1541.7) scale(1,1.04)" x="883.6" y="0" font-size="38" font-weight="bold" letter-spacing="2.6">−9.0</text><text transform="translate(0,1656.0) scale(1,1.04)" x="860.6" y="0" font-size="38" font-weight="bold" letter-spacing="2.6">−12.0</text><text transform="translate(0,1767.0) scale(1,1.04)" x="860.6" y="0" font-size="38" font-weight="bold" letter-spacing="2.6">−15.0</text><text transform="translate(843.8,1661.8) rotate(-90) scale(1,1.04)" x="-2" y="0" font-size="38" font-weight="bold" letter-spacing="2.15" fill="#231815">Grouting depth (m)</text><line x1="988.3" y1="1197.7" x2="1435.6" y2="1197.7" stroke="#231815" stroke-width="3.4"/><line x1="990.5" y1="1196" x2="990.5" y2="1776" stroke="#231815" stroke-width="3.8"/><path d="M978.6,1774.1 L1002.7,1774.1 L990.6,1795.6 Z" fill="#231815"/><line x1="990.5" y1="1309.5" x2="1011.8" y2="1309.5" stroke="#231815" stroke-width="2.8"/><line x1="990.5" y1="1420.8" x2="1011.8" y2="1420.8" stroke="#231815" stroke-width="2.8"/><line x1="990.5" y1="1531.0" x2="1011.8" y2="1531.0" stroke="#231815" stroke-width="2.8"/><line x1="990.5" y1="1642.3" x2="1011.8" y2="1642.3" stroke="#231815" stroke-width="2.8"/><line x1="990.5" y1="1753.3" x2="1011.8" y2="1753.3" stroke="#231815" stroke-width="2.8"/><line x1="1004.4" y1="1227.2" x2="1028.6" y2="1199.0" stroke="#231815" stroke-width="1.3"/><line x1="1035.2" y1="1224.7" x2="1058.0" y2="1199.0" stroke="#231815" stroke-width="1.3"/><line x1="1067.9" y1="1225.6" x2="1091.0" y2="1199.0" stroke="#231815" stroke-width="1.3"/><line x1="1303.7" y1="1216.8" x2="1319.4" y2="1199.0" stroke="#231815" stroke-width="1.3"/><line x1="1322.1" y1="1227.1" x2="1346.4" y2="1199.0" stroke="#231815" stroke-width="1.3"/><line x1="1349.9" y1="1225.7" x2="1373.0" y2="1199.0" stroke="#231815" stroke-width="1.3"/><line x1="1376.1" y1="1225.7" x2="1399.2" y2="1199.0" stroke="#231815" stroke-width="1.3"/><path d="M1162,1199.5 V1773.3 M1243.5,1199.5 V1773.3" fill="none" stroke="#231815" stroke-width="2.1" stroke-dasharray="10.4,12.9"/><path d="M1166.8,1773.3 H1243.5" fill="none" stroke="#231815" stroke-width="2.1" stroke-dasharray="11.2,12.3"/><rect x="1159.8" y="1772.2" width="2.2" height="2.2" fill="#231815"/><path d="M1192.3,1752 V1036 C1192.3,1010 1207,995.6 1229,995.6 H1269.2" fill="none" stroke="#231815" stroke-width="4.0"/><path d="M1209.9,1752 V1032 C1209.9,1019 1215,1013.7 1229,1013.7 H1267.2" fill="none" stroke="#231815" stroke-width="3.8"/><rect x="1190.4" y="1084" width="29.5" height="7.6" fill="#231815"/><rect x="1216.9" y="1072.7" width="5" height="30" rx="2.5" fill="#231815"/><path d="M1180,1121 C1186,1132 1190.5,1146 1191,1172 L1191.0,1172.0 1190.8,1174.0 1190.5,1176.0 1190.1,1178.0 1189.7,1180.1 1189.2,1182.1 1188.8,1184.1 1188.3,1186.1 1187.8,1188.1 1187.3,1190.1 1186.7,1192.2 1186.2,1194.2 1185.7,1196.2 1185.2,1198.2 1184.6,1200.2 1184.1,1202.2 1183.6,1204.2 1183.1,1206.3 1182.7,1208.3 1182.2,1210.3 1181.8,1212.3 1181.4,1214.3 1181.0,1216.3 1180.7,1218.4 1180.3,1220.4 1180.0,1222.4 1179.8,1224.4 1179.5,1226.4 1179.3,1228.4 1179.2,1230.4 1179.1,1232.5 1179.0,1234.5 1178.9,1236.5 1178.9,1238.5 1178.9,1240.5 1179.0,1242.5 1179.1,1244.6 1179.2,1246.6 1179.4,1248.6 1179.6,1250.6 1179.8,1252.6 1180.1,1254.6 1180.4,1256.6 1180.7,1258.7 1181.1,1260.7 1181.5,1262.7 1181.9,1264.7 1182.3,1266.7 1182.8,1268.7 1183.3,1270.8 1183.8,1272.8 1184.3,1274.8 1184.8,1276.8 1185.3,1278.8 1185.9,1280.8 1186.4,1282.8 1187.0,1284.9 1187.5,1286.9 1188.0,1288.9 1188.6,1290.9 1189.1,1292.9 1189.5,1294.9 1190.0,1297.0 1190.4,1299.0 1190.8,1301.0 1191.0,1303.0 1190.9,1305.0 1190.8,1307.0 1190.7,1309.0 1190.5,1311.0 1190.3,1313.0 1190.0,1315.0 1189.8,1317.0 1189.5,1319.0 1189.2,1321.0 1188.8,1323.0 1188.5,1325.0 1188.1,1327.0 1187.8,1329.0 1187.4,1331.0 1187.0,1333.0 1186.6,1335.0 1186.2,1337.0 1185.8,1339.0 1185.4,1341.0 1185.0,1343.0 1184.6,1345.0 1184.2,1347.0 1183.8,1349.0 1183.4,1351.0 1183.0,1353.0 1182.6,1355.0 1182.2,1357.0 1181.9,1359.0 1181.5,1361.0 1181.2,1363.0 1180.9,1365.0 1180.6,1367.0 1180.3,1369.0 1180.0,1371.0 1179.8,1373.0 1179.6,1375.0 1179.4,1377.0 1179.3,1379.0 1179.1,1381.0 1179.0,1383.0 1179.0,1385.0 1178.9,1387.0 1178.9,1389.0 1178.9,1391.0 1179.0,1393.0 1179.1,1395.0 1179.2,1397.0 1179.3,1399.0 1179.5,1401.0 1179.7,1403.0 1179.9,1405.0 1180.2,1407.0 1180.5,1409.0 1180.8,1411.0 1181.2,1413.0 1181.6,1415.0 1182.0,1417.0 1182.4,1419.0 1182.8,1421.0 1183.3,1423.0 1183.8,1425.0 1184.3,1427.0 1184.8,1429.0 1185.3,1431.0 1185.9,1433.0 1186.4,1435.0 1187.0,1437.0 1187.5,1439.0 1188.0,1441.0 1188.5,1443.0 1189.0,1445.0 1189.5,1447.0 1190.0,1449.0 1190.4,1451.0 1190.8,1453.0 1191.0,1455.0 1190.9,1457.0 1190.7,1459.0 1190.5,1461.0 1190.2,1463.1 1189.9,1465.1 1189.6,1467.1 1189.2,1469.1 1188.8,1471.1 1188.4,1473.1 1188.0,1475.1 1187.6,1477.2 1187.1,1479.2 1186.6,1481.2 1186.2,1483.2 1185.7,1485.2 1185.2,1487.2 1184.8,1489.2 1184.3,1491.3 1183.8,1493.3 1183.4,1495.3 1182.9,1497.3 1182.5,1499.3 1182.0,1501.3 1181.6,1503.4 1181.2,1505.4 1180.9,1507.4 1180.5,1509.4 1180.2,1511.4 1179.9,1513.4 1179.6,1515.4 1179.4,1517.5 1179.2,1519.5 1179.0,1521.5 1178.9,1523.5 1178.8,1525.5 1178.7,1527.5 1178.7,1529.5 1178.7,1531.6 1178.8,1533.6 1178.8,1535.6 1179.0,1537.6 1179.1,1539.6 1179.3,1541.6 1179.6,1543.6 1179.8,1545.7 1180.1,1547.7 1180.5,1549.7 1180.9,1551.7 1181.3,1553.7 1181.7,1555.7 1182.2,1557.8 1182.7,1559.8 1183.2,1561.8 1183.7,1563.8 1184.3,1565.8 1184.8,1567.8 1185.4,1569.8 1186.0,1571.9 1186.6,1573.9 1187.1,1575.9 1187.7,1577.9 1188.3,1579.9 1188.8,1581.9 1189.4,1583.9 1189.9,1586.0 1190.3,1588.0 1190.7,1590.0 1191.0,1592.0 1191.0,1594.0 1190.9,1596.0 1190.8,1598.0 1190.6,1600.0 1190.4,1602.0 1190.2,1604.0 1190.0,1606.0 1189.7,1608.0 1189.4,1610.0 1189.1,1612.0 1188.7,1614.0 1188.4,1616.0 1188.0,1618.0 1187.5,1620.0 1187.1,1622.0 1186.7,1624.0 1186.2,1626.0 1185.7,1628.0 1185.3,1630.0 1184.8,1632.0 1184.3,1634.0 1183.8,1636.0 1183.3,1638.0 1182.8,1640.0 1182.3,1642.0 1181.9,1644.0 1181.4,1646.0 1181.0,1648.0 1180.5,1650.0 1180.1,1652.0 1179.8,1654.0 1179.4,1656.0 1179.1,1658.0 1178.8,1660.0 1178.6,1662.0 1178.4,1664.0 1178.2,1666.0 1178.1,1668.0 1178.0,1670.0 1178.0,1672.0 1178.0,1674.0 1178.1,1676.0 1178.2,1678.0 1178.4,1680.0 1178.7,1682.0 1178.9,1684.0 1179.3,1686.0 1179.7,1688.0 1180.1,1690.0 1180.6,1692.0 1181.1,1694.0 1181.7,1696.0 1182.3,1698.0 1183.0,1700.0 1183.7,1702.0 1184.4,1704.0 1185.1,1706.0 1185.8,1708.0 1186.6,1710.0 1187.3,1712.0 1188.1,1714.0 1188.8,1716.0 1189.5,1718.0 1190.1,1720.0 1190.6,1722.0 1191.0,1724.0 L1191,1738" fill="none" stroke="#231815" stroke-width="3.3" stroke-linejoin="round"/><path d="M1221.8,1123 C1215,1134 1211.5,1148 1211,1176 L1211.0,1176.0 1211.3,1178.0 1211.7,1180.0 1212.2,1182.0 1212.8,1184.1 1213.4,1186.1 1214.0,1188.1 1214.7,1190.1 1215.4,1192.1 1216.1,1194.1 1216.8,1196.2 1217.5,1198.2 1218.2,1200.2 1218.8,1202.2 1219.5,1204.2 1220.2,1206.2 1220.8,1208.2 1221.5,1210.3 1222.1,1212.3 1222.7,1214.3 1223.2,1216.3 1223.8,1218.3 1224.2,1220.3 1224.7,1222.4 1225.1,1224.4 1225.5,1226.4 1225.8,1228.4 1226.1,1230.4 1226.4,1232.4 1226.6,1234.4 1226.7,1236.5 1226.8,1238.5 1226.9,1240.5 1226.9,1242.5 1226.9,1244.5 1226.8,1246.5 1226.6,1248.6 1226.5,1250.6 1226.2,1252.6 1225.9,1254.6 1225.6,1256.6 1225.3,1258.6 1224.9,1260.6 1224.4,1262.7 1223.9,1264.7 1223.4,1266.7 1222.9,1268.7 1222.3,1270.7 1221.7,1272.7 1221.1,1274.8 1220.4,1276.8 1219.7,1278.8 1219.0,1280.8 1218.3,1282.8 1217.6,1284.8 1216.9,1286.8 1216.2,1288.9 1215.5,1290.9 1214.8,1292.9 1214.2,1294.9 1213.5,1296.9 1212.9,1298.9 1212.3,1301.0 1211.8,1303.0 1211.3,1305.0 1211.0,1307.0 1211.1,1309.0 1211.3,1311.0 1211.6,1313.0 1211.9,1315.1 1212.2,1317.1 1212.6,1319.1 1213.0,1321.1 1213.5,1323.1 1213.9,1325.1 1214.4,1327.1 1214.9,1329.1 1215.4,1331.2 1216.0,1333.2 1216.5,1335.2 1217.1,1337.2 1217.6,1339.2 1218.2,1341.2 1218.8,1343.2 1219.3,1345.3 1219.9,1347.3 1220.4,1349.3 1221.0,1351.3 1221.5,1353.3 1222.0,1355.3 1222.5,1357.3 1223.0,1359.4 1223.5,1361.4 1223.9,1363.4 1224.4,1365.4 1224.7,1367.4 1225.1,1369.4 1225.5,1371.4 1225.8,1373.4 1226.0,1375.5 1226.3,1377.5 1226.5,1379.5 1226.6,1381.5 1226.8,1383.5 1226.8,1385.5 1226.9,1387.5 1226.9,1389.6 1226.9,1391.6 1226.8,1393.6 1226.7,1395.6 1226.5,1397.6 1226.3,1399.6 1226.1,1401.6 1225.8,1403.6 1225.4,1405.7 1225.1,1407.7 1224.7,1409.7 1224.2,1411.7 1223.8,1413.7 1223.3,1415.7 1222.7,1417.7 1222.2,1419.8 1221.6,1421.8 1220.9,1423.8 1220.3,1425.8 1219.6,1427.8 1219.0,1429.8 1218.3,1431.8 1217.6,1433.9 1216.9,1435.9 1216.2,1437.9 1215.5,1439.9 1214.8,1441.9 1214.2,1443.9 1213.5,1445.9 1212.9,1447.9 1212.3,1450.0 1211.8,1452.0 1211.3,1454.0 1211.0,1456.0 1211.1,1458.0 1211.2,1460.0 1211.3,1462.0 1211.5,1464.0 1211.8,1466.0 1212.0,1468.0 1212.4,1470.0 1212.7,1472.0 1213.1,1474.0 1213.5,1476.0 1213.9,1478.0 1214.3,1480.0 1214.8,1482.0 1215.3,1484.0 1215.8,1486.0 1216.3,1488.0 1216.8,1490.0 1217.3,1492.0 1217.9,1494.0 1218.4,1496.0 1218.9,1498.0 1219.5,1500.0 1220.0,1502.0 1220.6,1504.0 1221.1,1506.0 1221.6,1508.0 1222.1,1510.0 1222.5,1512.0 1223.0,1514.0 1223.4,1516.0 1223.8,1518.0 1224.2,1520.0 1224.5,1522.0 1224.8,1524.0 1225.1,1526.0 1225.3,1528.0 1225.5,1530.0 1225.7,1532.0 1225.7,1534.0 1225.8,1536.0 1225.8,1538.0 1225.7,1540.0 1225.6,1542.0 1225.5,1544.0 1225.3,1546.0 1225.0,1548.0 1224.7,1550.0 1224.4,1552.0 1224.0,1554.0 1223.5,1556.0 1223.0,1558.0 1222.5,1560.0 1221.9,1562.0 1221.3,1564.0 1220.6,1566.0 1220.0,1568.0 1219.2,1570.0 1218.5,1572.0 1217.8,1574.0 1217.0,1576.0 1216.2,1578.0 1215.5,1580.0 1214.7,1582.0 1213.9,1584.0 1213.2,1586.0 1212.5,1588.0 1211.9,1590.0 1211.4,1592.0 1211.0,1594.0 1211.1,1596.0 1211.3,1598.0 1211.5,1600.0 1211.8,1602.0 1212.1,1604.0 1212.5,1606.0 1212.9,1608.0 1213.3,1610.0 1213.8,1612.0 1214.3,1614.0 1214.8,1616.0 1215.3,1618.0 1215.8,1620.0 1216.4,1622.0 1216.9,1624.0 1217.5,1626.0 1218.1,1628.0 1218.7,1630.0 1219.2,1632.0 1219.8,1634.0 1220.4,1636.0 1221.0,1638.0 1221.5,1640.0 1222.1,1642.0 1222.6,1644.0 1223.1,1646.0 1223.6,1648.0 1224.0,1650.0 1224.5,1652.0 1224.9,1654.0 1225.2,1656.0 1225.6,1658.0 1225.9,1660.0 1226.2,1662.0 1226.4,1664.0 1226.6,1666.0 1226.7,1668.0 1226.8,1670.0 1226.9,1672.0 1226.9,1674.0 1226.9,1676.0 1226.8,1678.0 1226.7,1680.0 1226.5,1682.0 1226.3,1684.0 1226.0,1686.0 1225.7,1688.0 1225.3,1690.0 1224.9,1692.0 1224.5,1694.0 1224.0,1696.0 1223.5,1698.0 1222.9,1700.0 1222.3,1702.0 1221.7,1704.0 1221.0,1706.0 1220.3,1708.0 1219.6,1710.0 1218.9,1712.0 1218.2,1714.0 1217.4,1716.0 1216.7,1718.0 1215.9,1720.0 1215.2,1722.0 1214.5,1724.0 1213.8,1726.0 1213.1,1728.0 1212.4,1730.0 1211.9,1732.0 1211.3,1734.0 1211.0,1736.0 L1211,1742" fill="none" stroke="#231815" stroke-width="3.3" stroke-linejoin="round"/><path d="M1190.3,1738 C1190,1752 1191,1766 1196.5,1766 C1201,1766 1201,1752 1201,1743 C1201,1752 1201,1766 1205.8,1766 C1211,1766 1211.5,1752 1211,1738" fill="none" stroke="#231815" stroke-width="3.0"/><circle cx="1201.7" cy="1645.6" r="2.6" fill="#fff" stroke="#231815" stroke-width="1"/><circle cx="1201.7" cy="1690.0" r="2.6" fill="#fff" stroke="#231815" stroke-width="1"/><circle cx="1201.7" cy="1732.7" r="2.6" fill="#fff" stroke="#231815" stroke-width="1"/></g>
</svg></body></html>
